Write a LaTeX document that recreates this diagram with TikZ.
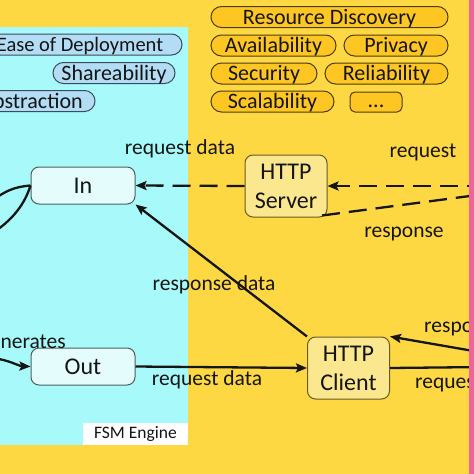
\documentclass[tikz,border=0pt]{standalone}
\usepackage{fontspec}
\setmainfont{Carlito}
\usetikzlibrary{arrows.meta}
\definecolor{bgyellow}{HTML}{FDD843}
\definecolor{fsmcyan}{HTML}{A8F9F9}
\definecolor{pillblue}{HTML}{B3DDF4}
\definecolor{pillblueborder}{HTML}{3B4B5B}
\definecolor{pillyellow}{HTML}{FDC623}
\definecolor{pillyellowborder}{HTML}{4A3C10}
\definecolor{statefill}{HTML}{E4FCFC}
\definecolor{stateborder}{HTML}{4F5F5F}
\definecolor{httpfill}{HTML}{FBE78E}
\definecolor{httpborder}{HTML}{6A5A20}
\definecolor{pinkstrip}{HTML}{F0639B}
\definecolor{ink}{HTML}{151515}
\begin{document}
\begin{tikzpicture}[x=1pt,y=-1pt,
  pill/.style={draw, line width=1pt, rounded corners=10.5pt, minimum height=21pt,
    inner xsep=0pt, inner ysep=0pt, text height=14pt, text depth=0pt,
    font=\fontsize{22}{26}\selectfont, text=ink},
  pillB/.style={pill, fill=pillblue, draw=pillblueborder},
  pillY/.style={pill, fill=pillyellow, draw=pillyellowborder},
  statebox/.style={draw=stateborder, fill=statefill, line width=1pt, rounded corners=8pt,
    minimum width=104pt, minimum height=37pt, inner sep=0pt,
    font=\fontsize{24}{29}\selectfont, text=ink},
  httpbox/.style={draw=httpborder, fill=httpfill, line width=1pt, rounded corners=8pt,
    minimum width=82pt, minimum height=62pt, inner sep=0pt, align=center,
    font=\fontsize{24}{29}\selectfont, text=ink},
  lbl/.style={anchor=base, inner sep=0pt, font=\fontsize{21.5}{26}\selectfont, text=ink},
  conn/.style={draw=ink, line width=2.3pt},
  connarrow/.style={conn, -{Stealth[length=11pt,width=9pt,inset=2pt]}},
  dconn/.style={conn, dash pattern=on 18pt off 9pt},
  dconnarrow/.style={dconn, -{Stealth[length=11pt,width=9pt,inset=2pt]}}
]
\useasboundingbox (0,0) rectangle (474,474);
\clip (0,0) rectangle (474,474);
\fill[bgyellow] (0,0) rectangle (474,474);
\fill[fsmcyan] (0,27) rectangle (188,445);

% blue pills
\node[pillB, minimum width=204pt, font=\fontsize{20.5}{25}\selectfont] (ease) at (80,44.5) {Ease of Deployment};
\node[pillB, minimum width=122pt] (share) at (114,73) {Shareability};
\node[pillB, minimum width=127pt] (abst) at (31.5,101) {Abstraction};

% yellow pills
\node[pillY, minimum width=237pt] (resdisc) at (329.5,17) {Resource Discovery};
\node[pillY, minimum width=125pt] (avail) at (273.5,45.5) {Availability};
\node[pillY, minimum width=104pt] (priv) at (396,45.5) {Privacy};
\node[pillY, minimum width=106pt] (secu) at (264,73.5) {Security};
\node[pillY, minimum width=123pt] (reli) at (386.5,73.5) {Reliability};
\node[pillY, minimum width=123pt] (scal) at (272.5,101.5) {Scalability};
\node[pillY, minimum width=52pt, minimum height=20pt, rounded corners=5pt, text height=11pt] (more) at (376,102) {...};

% main nodes
\node[statebox] (in) at (83,185.5) {In};
\node[statebox] (out) at (83,366.5) {Out};
\node[httpbox] (srv) at (286,186) {HTTP\\Server};
\node[httpbox] (cli) at (348.5,368) {HTTP\\Client};

% off-picture ends
\coordinate (r1) at (485,186);
\coordinate (r2) at (485,194);
\coordinate (r3) at (485,353);
\coordinate (r4) at (485,367);
\coordinate (l1) at (-14,205);
\coordinate (l2) at (-12,236);
\coordinate (l3) at (-8,358);
\coordinate (srvc) at (322,215.5);

% connectors
\draw[dconnarrow] (r1) -- (srv.east);
\draw[dconn] (srvc) -- (r2);
\draw[dconnarrow] (srv.west) -- (in.east);
\draw[connarrow] (cli.north west) -- (in.south east);
\draw[connarrow] (out.east) -- (cli.west);
\draw[connarrow] (r3) -- (cli.north east);
\draw[conn] (cli.east) -- (r4);
\draw[conn] (in.west) .. controls (14,187) and (6,190) .. (l1);
\draw[conn] (in.west) .. controls (25,203) and (14,220) .. (l2);
\draw[connarrow] (l3) .. controls (10,360) and (18,366) .. (out.west);

% labels
\node[lbl] (lreqdata) at (180,154) {request data};
\node[lbl] (lreq) at (423,157) {request};
\node[lbl] (lresp) at (404,237) {response};
\node[lbl] (lrespdata) at (214,290) {response data};
\node[lbl] (lreqdata2) at (207,385) {request data};
\node[lbl, anchor=base west] (lresp2) at (424,332) {response};
\node[lbl, anchor=base west] (lreq2) at (415,388) {request};
\node[lbl, anchor=base east] (lgen) at (66,348) {generates};

% FSM engine tag
\fill[white] (83,423) rectangle (188,445);
\node[inner sep=0pt, font=\fontsize{17.5}{21}\selectfont, text=ink] (fsm) at (135.5,434) {FSM Engine};

% pink strip
\fill[pinkstrip] (469,0) rectangle (474,474);
\end{tikzpicture}
\end{document}
